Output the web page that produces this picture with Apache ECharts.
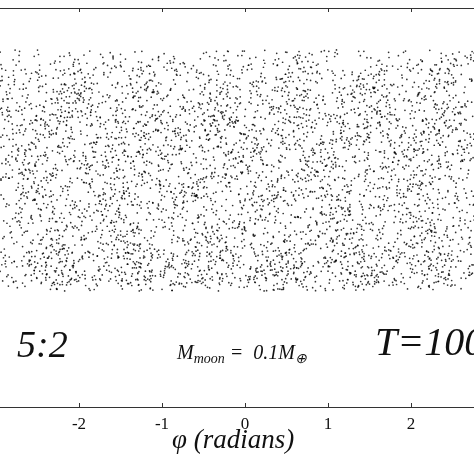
<!DOCTYPE html>
<html><head><meta charset="utf-8">
<script src="https://cdn.jsdelivr.net/npm/echarts@6/dist/echarts.min.js"></script>
<style>html,body{margin:0;background:#fff}#c{width:474px;height:474px}</style>
</head><body><div id="c"></div>
<script>
// phase phi (x, hundredths of rad) and y (hundredths), read approximately from the scatter cloud
const xTicks = [-2, -1, 0, 1, 2];
const phiPts = [-312,-287,-265,-240,-221,-198,-176,-150,-131,-109,-85,-62,-41,-17,4,27,49,73,94,118,139,162,186,207,231,252,276,298,-305,-280,-258,-233,-214,-190,-168,-144,-122,-101,-78,-55,-33,-10,12,35,57,80,101,125,147,170,193,214,238,260,283,-296,-272,-249,-226,-205,-182,-160,-137,-114,-93,-70,-47,-24,-2,20,43,65,87,109,132,155,178,200,222,245,268,290,-300,-276,-254,-230,-208,-186,-163,-141,-118,-97,-74,-51,-28,-6,16,39,61,84,106,128,151,174,196,219,241,264,287,-309,-284,-261,-237,-217,-194,-172,-147,-126,-104,-81,-59,-37,-13,8,31,53,76,97,121,143,166,189,211,234,256,279,301,-292,-268,-245,-223,-201,-178,-156,-133,-111,-89,-66,-44,-20,1,24,46,69,91,114,136,159,182,203,227,249,272,294];
const yPts = [84,79,86,82,77,85,80,87,78,83,88,81,76,84,86,79,82,87,77,85,80,83,78,86,81,84,88,79,74,71,75,69,73,76,70,72,68,74,71,75,69,73,67,72,76,70,74,68,71,75,69,73,72,70,74,64,61,66,59,63,65,60,62,58,64,67,61,57,63,66,60,65,59,62,64,58,61,66,63,60,65,62,53,50,55,48,52,56,49,54,51,47,53,56,50,52,48,55,51,54,49,46,53,50,55,52,48,54,51,43,39,45,37,41,44,38,42,36,40,44,39,43,37,41,35,42,45,38,40,36,43,39,44,41,37,42,38,33,30,35,31,34,29,32,36,30,33,31,35,29,34,32,30,36,31,33,29,35,32,30,34,31];
const shifts = [[0,0],[9,3],[-7,-2],[14,-4],[-12,5],[5,-6],[-4,4],[11,2],[-9,-5],[3,6],[-14,1],[7,-3],[-2,-1],[12,5],[-6,3],[2,-4],[17,-7],[-17,7],[19,1],[-19,-3],[6,9],[-3,-9],[15,8],[-11,-8],[1,10],[-8,10],[10,-10],[-16,-6],[18,4],[-5,7],[8,-8],[-13,9]];
</script>
<script>
const data = [];
for (const s of shifts) {
  for (let i = 0; i < phiPts.length; i++) {
    let x = (phiPts[i] + s[0] * (1 + (i % 4)) + ((i * 13) % 11) * s[1] * 0.3) / 100;
    while (x > 3.3) x -= 6.6; while (x < -3.3) x += 6.6;
    const y = (yPts[i] + s[1] * 0.45 + ((i * 7 + s[0] + 40) % 9) * 0.35 - 1.4) / 100;
    if (y > 0.29 && y < 0.895) data.push([x, y]);
  }
}
const chart = echarts.init(document.getElementById('c'));
const serif = 'Liberation Serif';
const xmin = -2.952, xmax = 2.759;
chart.setOption({
  animation: false,
  grid: {left: 0, right: 0, top: 8, bottom: 67},
  xAxis: [
    {type: 'value', min: xmin, max: xmax, position: 'bottom',
     axisLine: {onZero: false, lineStyle: {color: '#333', width: 1.2}},
     axisTick: {inside: true, length: 4, lineStyle: {color: '#333'}, customValues: xTicks},
     axisLabel: {customValues: xTicks, color: '#111', fontFamily: serif, fontSize: 17, margin: 9},
     splitLine: {show: false}},
    {type: 'value', min: xmin, max: xmax, position: 'top',
     axisLine: {onZero: false, lineStyle: {color: '#333', width: 1.2}},
     axisTick: {inside: true, length: 4, lineStyle: {color: '#333'}, customValues: xTicks},
     axisLabel: {show: false}, splitLine: {show: false}}
  ],
  yAxis: {type: 'value', min: 0, max: 1, show: false, splitLine: {show: false}},
  series: [{type: 'scatter', data: data, symbolSize: 1.7, itemStyle: {color: '#000'}, silent: true}],
  graphic: [
    {type: 'text', left: 17, top: 328, style: {text: '5:2', font: 'italic 38px "Liberation Serif"', fill: '#111'}},
    {type: 'text', left: 375, top: 324, style: {text: 'T=100', font: 'italic 40px "Liberation Serif"', fill: '#111'}},
    {type: 'text', left: 177, top: 344, style: {
      text: '{a|M}{s|moon}{a| =  0.1M}{s|⊕}',
      rich: {a: {fontFamily: serif, fontStyle: 'italic', fontSize: 20, fill: '#111'},
             s: {fontFamily: serif, fontStyle: 'italic', fontSize: 14, fill: '#111', padding: [10, 0, 0, 0]}}}},
    {type: 'text', left: 172, top: 427, style: {text: 'φ (radians)', font: 'italic 27px "Liberation Serif"', fill: '#111'}}
  ]
});
</script></body></html>
